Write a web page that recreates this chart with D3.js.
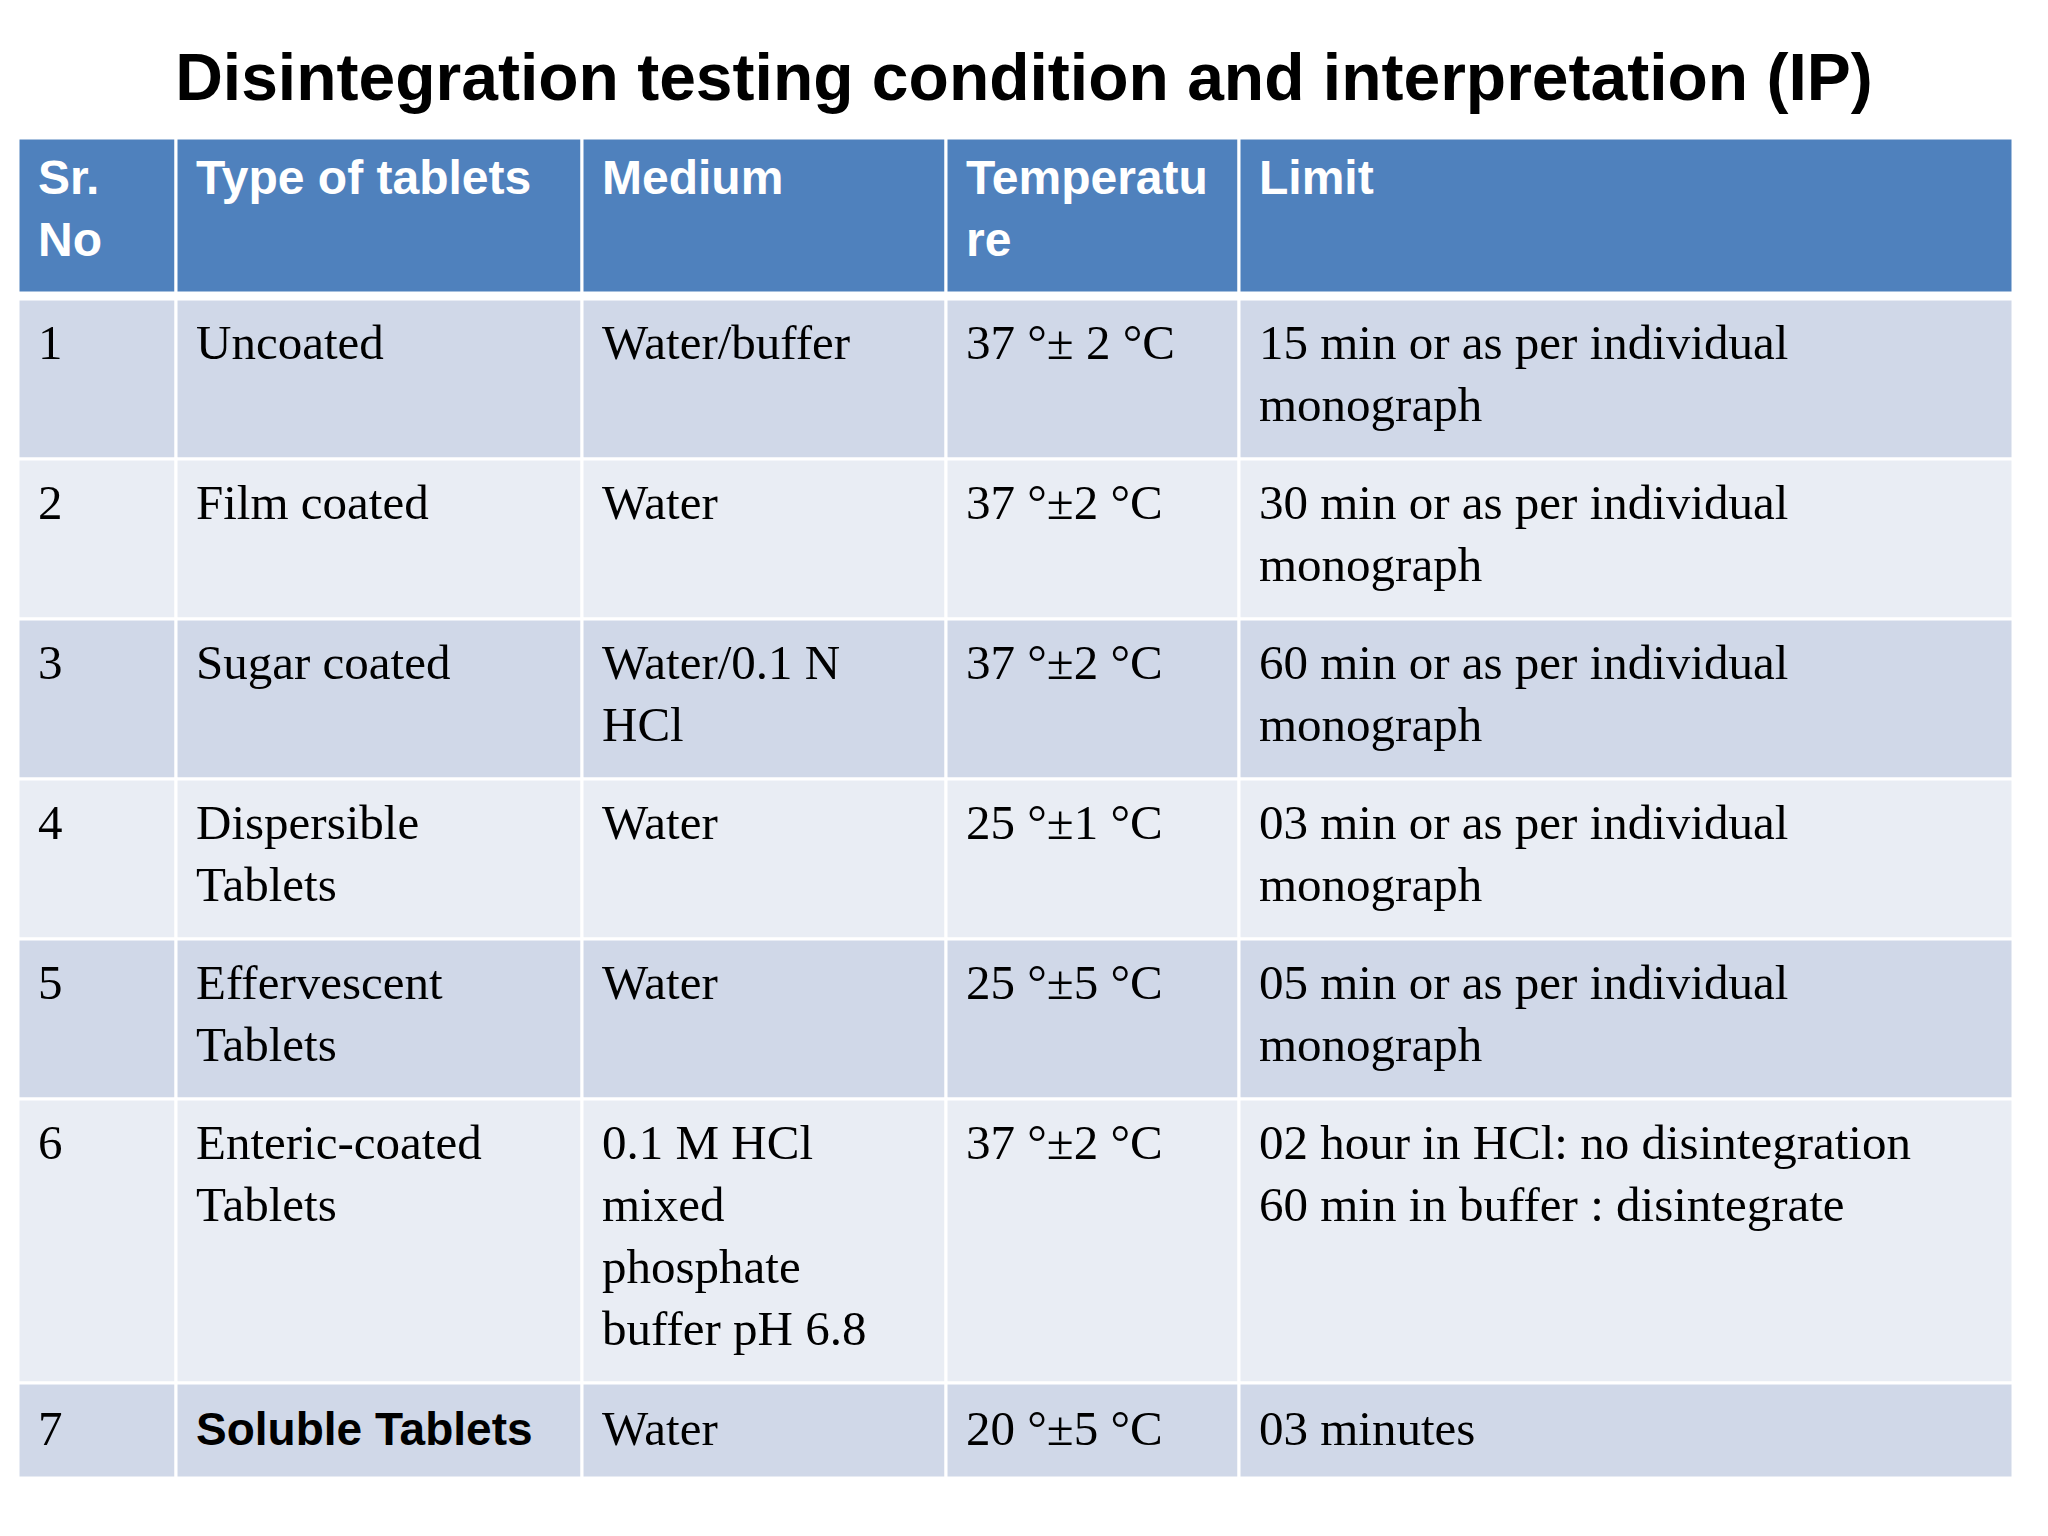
<!DOCTYPE html>
<html><head><meta charset="utf-8">
<script src="https://cdn.jsdelivr.net/npm/d3@7"></script>
<style>body{margin:0;background:#fff}</style>
</head><body>
<svg id="chart" width="2048" height="1536"></svg>
<script>
const title = "Disintegration testing condition and interpretation (IP)";
const headers = [["Sr.", "No"], ["Type of tablets"], ["Medium"], ["Temperatu", "re"], ["Limit"]];
const srNo = ["1", "2", "3", "4", "5", "6", "7"];
const tabletTypes = [["Uncoated"], ["Film coated"], ["Sugar coated"], ["Dispersible", "Tablets"], ["Effervescent", "Tablets"], ["Enteric-coated", "Tablets"], ["Soluble Tablets"]];
const media = [["Water/buffer"], ["Water"], ["Water/0.1 N", "HCl"], ["Water"], ["Water"], ["0.1 M HCl", "mixed", "phosphate", "buffer pH 6.8"], ["Water"]];
const temps = ["37 °±  2 °C", "37 °±2 °C", "37 °±2 °C", "25 °±1 °C", "25 °±5 °C", "37 °±2 °C", "20 °±5 °C"];
const limits = [["15 min or as per individual", "monograph"], ["30 min or as per individual", "monograph"], ["60 min or as per individual", "monograph"], ["03 min or as per individual", "monograph"], ["05 min or as per individual", "monograph"], ["02 hour in HCl: no disintegration", "60 min in buffer : disintegrate"], ["03 minutes"]];
const colWidths = [158, 406, 364, 293, 774];

const svg = d3.select("#chart");
const left = 18, tableTop = 138, headH = 155, lineH = 62, pad = 36;

svg.append("text").attr("x", 1024).attr("y", 100).attr("text-anchor", "middle")
  .attr("font-family", "Liberation Sans, Arial").attr("font-weight", "bold").attr("font-size", 66)
  .text(title);

const colEdges = d3.cumsum([0, ...colWidths]);
const x = d3.scaleLinear().domain([0, colEdges[colEdges.length - 1]]).range([left, left + colEdges[colEdges.length - 1]]);

const rows = srNo.map((n, i) => [[n], tabletTypes[i], media[i], [temps[i]], limits[i]]);
const lines = rows.map(r => d3.max(r, c => c.length));
const heights = lines.map(l => l === 1 ? 95 : l * lineH + pad);
const yEdges = d3.cumsum([0, ...heights]);
const y = d3.scaleLinear().domain([0, yEdges[yEdges.length - 1]]).range([tableTop + headH + 6, tableTop + headH + 6 + yEdges[yEdges.length - 1]]);

// header
const hg = svg.append("g");
hg.selectAll("rect").data(headers).join("rect")
  .attr("x", (d, i) => x(colEdges[i])).attr("y", tableTop)
  .attr("width", (d, i) => colWidths[i]).attr("height", headH)
  .attr("fill", "#4F81BD").attr("stroke", "#fff").attr("stroke-width", 3);
hg.selectAll("text").data(headers).join("text")
  .attr("x", (d, i) => x(colEdges[i]) + 20).attr("y", tableTop + 56)
  .attr("fill", "#fff").attr("font-family", "Liberation Sans, Arial").attr("font-weight", "bold").attr("font-size", 48)
  .selectAll("tspan").data(d => d).join("tspan")
  .attr("x", function() { return this.parentNode.getAttribute("x"); })
  .attr("dy", (d, j) => j === 0 ? 0 : lineH).text(d => d);

// body
const rg = svg.selectAll("g.row").data(rows).join("g").attr("class", "row");
rg.selectAll("rect").data((r, i) => r.map(c => ({ c, i }))).join("rect")
  .attr("x", (d, j) => x(colEdges[j])).attr("y", d => y(yEdges[d.i]))
  .attr("width", (d, j) => colWidths[j]).attr("height", d => heights[d.i])
  .attr("fill", d => d.i % 2 === 0 ? "#D0D8E8" : "#E9EDF4").attr("stroke", "#fff").attr("stroke-width", 3);
rg.selectAll("text").data((r, i) => r.map(c => ({ c, i }))).join("text")
  .attr("x", (d, j) => x(colEdges[j]) + 20).attr("y", d => y(yEdges[d.i]) + (lines[d.i] === 1 ? 62 : 60))
  .attr("fill", "#000")
  .attr("font-family", (d, j) => d.i === 6 && j === 1 ? "Liberation Sans, Arial" : "Liberation Serif, Times New Roman")
  .attr("font-weight", (d, j) => d.i === 6 && j === 1 ? "bold" : "normal")
  .attr("font-size", (d, j) => d.i === 6 && j === 1 ? 46 : 49)
  .each(function(d) {
    const t = d3.select(this);
    t.selectAll("tspan").data(d.c).join("tspan")
      .attr("x", t.attr("x")).attr("dy", (s, k) => k === 0 ? 0 : lineH).text(s => s);
  });
</script>
</body></html>
